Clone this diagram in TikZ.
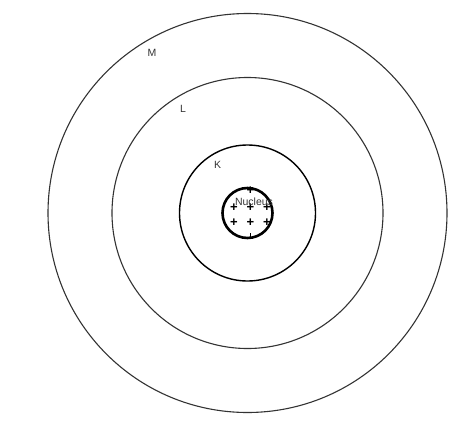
\documentclass[tikz,border=0pt]{standalone}
\usepackage{fontspec}
\setmainfont{Liberation Sans}
\begin{document}
\begin{tikzpicture}[x=1pt,y=-1pt,
  shell/.style={draw=black!80,line width=1.1pt},
  lbl/.style={inner sep=0pt,font=\fontsize{10.5}{11}\selectfont,text=black!80},
  plus/.style={inner sep=0pt,font=\bfseries\fontsize{13}{13}\selectfont}]
\useasboundingbox (0,0) rectangle (474,423);
\coordinate (c) at (247.5,213);
\draw[shell] (c) circle (199.5);
\draw[shell] (c) circle (135.5);
\draw[shell,draw=black,line width=1.4pt] (c) circle (68);
\node[plus] (p1) at (234,207.5) {+};
\node[plus] (p2) at (250.5,207.5) {+};
\node[plus] (p3) at (267,207.5) {+};
\node[plus] (p4) at (234,223) {+};
\node[plus] (p5) at (250.5,223) {+};
\node[plus] (p6) at (267,223) {+};
\node[plus] (p7) at (250.5,190.5) {+};
\draw[line width=2.6pt] (c) circle (25);
\draw[line width=0.9pt] (250.5,233) -- (250.5,238);
\node[lbl] (m) at (152,52.5) {M};
\node[lbl] (l) at (183,108.5) {L};
\node[lbl] (k) at (217.5,164.5) {K};
\node[lbl] (n) at (254,202) {Nucleus};
\end{tikzpicture}
\end{document}
